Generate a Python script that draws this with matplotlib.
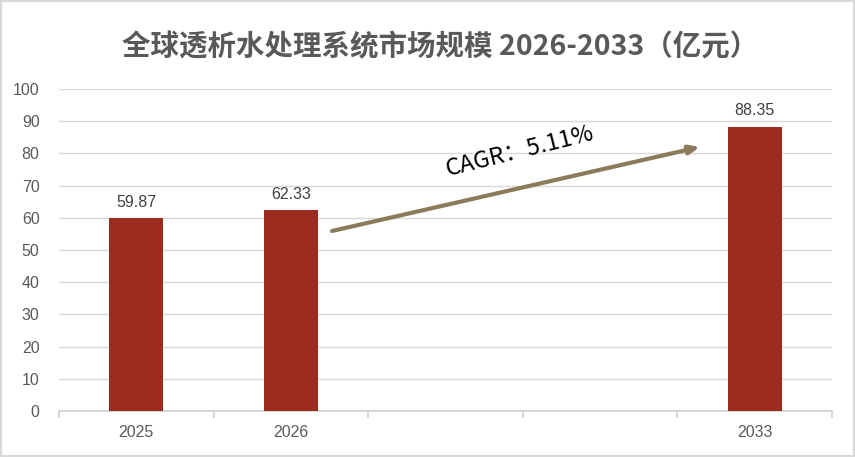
import matplotlib.pyplot as plt
from matplotlib.patches import Rectangle

# Data
categories = ["2025", "2026", "", "", "2033"]
values = [59.87, 62.33, None, None, 88.35]
cagr_label = "CAGR：5.11%"
title = "全球透析水处理系统市场规模 2026-2033（亿元）"

plt.rcParams['font.family'] = ['Liberation Sans', 'Noto Sans CJK SC', 'DejaVu Sans']

fig = plt.figure(figsize=(8.55, 4.57), dpi=100)
ax = fig.add_axes([59 / 855, 1 - 411 / 457, (832 - 59) / 855, (411 - 89) / 457])

# Bars (skip empty categories)
xs = [i for i, v in enumerate(values) if v is not None]
ys = [v for v in values if v is not None]
bars = ax.bar(xs, ys, width=0.35, color='#9C2B20', zorder=3)

# Value labels
for x, y in zip(xs, ys):
    ax.text(x, y + 2.5, f"{y:.2f}", ha='center', va='bottom', fontsize=11.5, color='#404040')

ax.set_xlim(-0.5, len(categories) - 0.5)
ax.set_ylim(0, 100)
ax.set_yticks(range(0, 101, 10))
ax.set_xticks(range(len(categories)))
ax.set_xticklabels(categories)
ax.set_xticks([i - 0.5 for i in range(len(categories) + 1)], minor=True)

ax.grid(axis='y', color='#D9D9D9', linewidth=1, zorder=0)
for side in ['left', 'right', 'top']:
    ax.spines[side].set_visible(False)
ax.spines['bottom'].set_color('#D0D0D0')
ax.spines['bottom'].set_linewidth(1.2)

ax.tick_params(axis='y', length=0, labelsize=11.5, labelcolor='#595959', pad=14)
ax.tick_params(axis='x', which='major', length=0, labelsize=11.5, labelcolor='#595959', pad=10)
ax.tick_params(axis='x', which='minor', length=5, color='#D0D0D0', width=1.2)

# CAGR arrow
ax.annotate('', xy=(3.646, 82.0), xytext=(1.266, 55.9),
            arrowprops=dict(arrowstyle='-|>,head_length=0.6,head_width=0.25',
                            color='#8B7B5A', lw=3, shrinkA=0, shrinkB=0), zorder=4)
ax.text(2.48, 80.5, cagr_label, rotation=14, ha='center', va='center',
        fontsize=17, color='black', family=['Noto Sans CJK SC', 'DejaVu Sans'])

# Title
fig.text(440 / 855, 1 - 47 / 457, title, ha='center', va='center', fontsize=20.5,
         fontweight='bold', color='#595959', family=['Noto Sans CJK SC', 'DejaVu Sans'])

# Figure border
fig.patches.append(Rectangle((0, 0), 1, 1, transform=fig.transFigure, fill=False,
                             edgecolor='#D9D9D9', linewidth=3))

fig.savefig('out.png', dpi=100)
